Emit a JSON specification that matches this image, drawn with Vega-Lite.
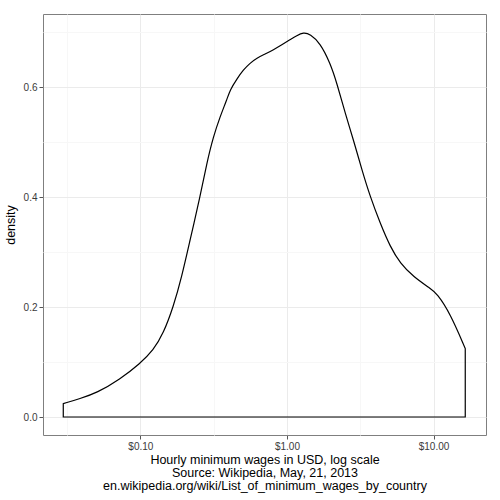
{
  "$schema": "https://vega.github.io/schema/vega-lite/v6.json",
  "description": "Density of hourly minimum wages (USD, log scale).",
  "width": 443,
  "height": 421,
  "autosize": {"type": "none"},
  "padding": {"left": 43, "top": 14, "right": 14, "bottom": 65},
  "background": "white",
  "config": {
    "font": "Liberation Sans",
    "view": {"stroke": "#7f7f7f", "strokeWidth": 1}
  },
  "data": {
    "values": [
      {"wage": 0.02981, "density": 0.0244},
      {"wage": 0.03877, "density": 0.0335},
      {"wage": 0.05041, "density": 0.0437},
      {"wage": 0.07265, "density": 0.0687},
      {"wage": 0.09954, "density": 0.0973},
      {"wage": 0.1227, "density": 0.1215},
      {"wage": 0.1436, "density": 0.1519},
      {"wage": 0.168, "density": 0.2004},
      {"wage": 0.1917, "density": 0.255},
      {"wage": 0.2184, "density": 0.3219},
      {"wage": 0.2556, "density": 0.4007},
      {"wage": 0.2839, "density": 0.4616},
      {"wage": 0.3149, "density": 0.51},
      {"wage": 0.35, "density": 0.5464},
      {"wage": 0.3888, "density": 0.5769},
      {"wage": 0.4096, "density": 0.5951},
      {"wage": 0.455, "density": 0.6146},
      {"wage": 0.5047, "density": 0.6315},
      {"wage": 0.5609, "density": 0.6437},
      {"wage": 0.6229, "density": 0.6528},
      {"wage": 0.7098, "density": 0.6601},
      {"wage": 0.8088, "density": 0.6679},
      {"wage": 0.923, "density": 0.6771},
      {"wage": 1.0515, "density": 0.6862},
      {"wage": 1.1683, "density": 0.694},
      {"wage": 1.2963, "density": 0.6995},
      {"wage": 1.4403, "density": 0.6965},
      {"wage": 1.685, "density": 0.6801},
      {"wage": 1.972, "density": 0.6437},
      {"wage": 2.191, "density": 0.6073},
      {"wage": 2.496, "density": 0.5526},
      {"wage": 2.844, "density": 0.504},
      {"wage": 3.246, "density": 0.4494},
      {"wage": 3.698, "density": 0.4007},
      {"wage": 4.327, "density": 0.3523},
      {"wage": 5.063, "density": 0.3097},
      {"wage": 5.925, "density": 0.2794},
      {"wage": 7.302, "density": 0.255},
      {"wage": 9.495, "density": 0.2339},
      {"wage": 10.55, "density": 0.2248},
      {"wage": 13.0, "density": 0.1883},
      {"wage": 16.46, "density": 0.1246}
    ]
  },
  "mark": {
    "type": "area",
    "interpolate": "basis",
    "fill": "white",
    "fillOpacity": 0,
    "stroke": "black",
    "strokeWidth": 1.2
  },
  "encoding": {
    "x": {
      "field": "wage",
      "type": "quantitative",
      "scale": {"type": "log", "domain": [0.02168, 22.8], "nice": false},
      "axis": {
        "values": [0.0316228, 0.1, 0.316228, 1, 3.16228, 10],
        "format": "$.2f",
        "labelExpr": "abs(log(datum.value)/LN10 - round(log(datum.value)/LN10)) > 0.25 ? '' : datum.label",
        "domain": false,
        "grid": true,
        "gridColor": {"condition": {"test": "abs(log(datum.value)/LN10 - round(log(datum.value)/LN10)) > 0.25", "value": "#f7f7f7"}, "value": "#ebebeb"},
        "tickColor": {"condition": {"test": "abs(log(datum.value)/LN10 - round(log(datum.value)/LN10)) > 0.25", "value": "transparent"}, "value": "#555555"},
        "tickSize": 4,
        "labelFontSize": 10,
        "labelColor": "#3a3a3a",
        "labelPadding": 2,
        "title": ["Hourly minimum wages in USD, log scale", "Source: Wikipedia, May, 21, 2013", "en.wikipedia.org/wiki/List_of_minimum_wages_by_country"],
        "titleFontSize": 12.5,
        "titleFontWeight": "normal",
        "titleColor": "black",
        "titleLineHeight": 13,
        "titlePadding": 2
      }
    },
    "y": {
      "field": "density",
      "type": "quantitative",
      "scale": {"domain": [-0.0327, 0.733], "nice": false, "zero": false},
      "axis": {
        "values": [0, 0.1, 0.2, 0.3, 0.4, 0.5, 0.6, 0.7],
        "format": ".1f",
        "labelExpr": "round(datum.value*10) % 2 == 1 ? '' : datum.label",
        "domain": false,
        "grid": true,
        "gridColor": {"condition": {"test": "round(datum.value*10) % 2 == 1", "value": "#f7f7f7"}, "value": "#ebebeb"},
        "tickColor": {"condition": {"test": "round(datum.value*10) % 2 == 1", "value": "transparent"}, "value": "#555555"},
        "tickSize": 4,
        "labelFontSize": 10,
        "labelColor": "#3a3a3a",
        "labelPadding": 2,
        "title": "density",
        "titleFontSize": 12.5,
        "titleFontWeight": "normal",
        "titleColor": "black",
        "titlePadding": 6
      }
    },
    "y2": {"datum": 0}
  }
}
